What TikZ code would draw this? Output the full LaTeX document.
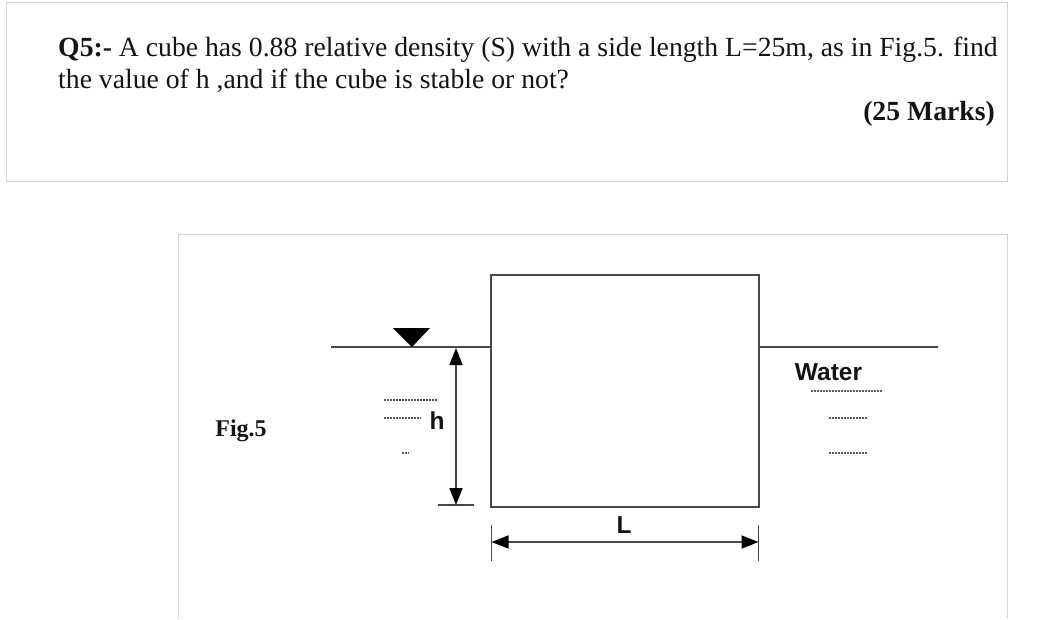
\documentclass[tikz,border=0pt]{standalone}
\usepackage{fontspec}
\setmainfont{Liberation Serif}
\setsansfont{Liberation Sans}
\usetikzlibrary{arrows.meta}
\tikzset{
  panel/.style={draw=black!17,line width=1pt},
  ink/.style={draw=black!72,line width=1.5pt},
  hdim/.style={ink,{Triangle[length=17pt,width=13pt,fill=black,color=black]}-{Triangle[length=17pt,width=13pt,fill=black,color=black]}},
  tick/.style={draw=black!72,line width=1.5pt},
  dots/.style={draw=black!65,line width=1.3pt,dash pattern=on 1.5pt off 1.5pt},
  para/.style={inner sep=0pt,anchor=base west,font=\fontsize{27.7pt}{30pt}\selectfont,text=black!92},
  lab/.style={inner sep=0pt,anchor=base,font=\sffamily\bfseries\fontsize{24.5pt}{28pt}\selectfont,text=black!92}
}
\begin{document}
\begin{tikzpicture}[x=1pt,y=-1pt]
\useasboundingbox (0,0) rectangle (1051,619);
\draw[panel] (6,2) rectangle (1007,181);
\draw[panel] (178,619) -- (178,234) -- (1007,234) -- (1007,619);
\node[para] (l1) at (58,56) {\textbf{Q5:-} A cube has 0.88 relative density (S) with a side length L=25m, as in Fig.5. find};
\node[para] (l2) at (58,88) {the value of h ,and if the cube is stable or not?};
\node[para,anchor=base east] (marks) at (995,120) {\textbf{(25 Marks)}};
\node[para,anchor=base,font=\bfseries\fontsize{24pt}{28pt}\selectfont] (fig) at (241,436) {Fig.5};

\node[draw=black!72,line width=1.5pt,outer sep=0pt,minimum width=268pt,minimum height=232pt,inner sep=0pt,anchor=north west] (cube) at (491,275) {};
\coordinate (wl) at (331,347);
\coordinate (wr) at (938,347);
\draw[ink] (wl) -- (wl -| cube.west);
\draw[ink] (wr -| cube.east) -- (wr);
\fill[black] (393,328) -- (430,328) -- (412,347) -- cycle;

\coordinate (htop) at (456,348);
\coordinate (hbot) at (456,505);
\coordinate (hta) at (438,505);
\coordinate (htb) at (474,505);
\draw[tick] (hta) -- (htb);
\draw[hdim] (htop) -- (hbot);
\node[lab] (h) at (437,429) {h};

\coordinate (la) at (491.5,525);
\coordinate (lb) at (491.5,561);
\coordinate (ra) at (758.5,525);
\coordinate (rb) at (758.5,561);
\coordinate (lm) at (491.5,542);
\coordinate (rm) at (758.5,542);
\draw[tick] (la) -- (lb);
\draw[tick] (ra) -- (rb);
\draw[hdim] (lm) -- (rm);
\node[lab] (L) at (624,533) {L};

\node[lab] (water) at (828.5,380) {Water};
\draw[dots] (384,400) -- (438,400);
\draw[dots] (384,418) -- (421,418);
\draw[dots] (402,453) -- (409,453);
\draw[dots] (811,391) -- (883,391);
\draw[dots] (829,418) -- (867,418);
\draw[dots] (829,453) -- (867,453);
\end{tikzpicture}
\end{document}
